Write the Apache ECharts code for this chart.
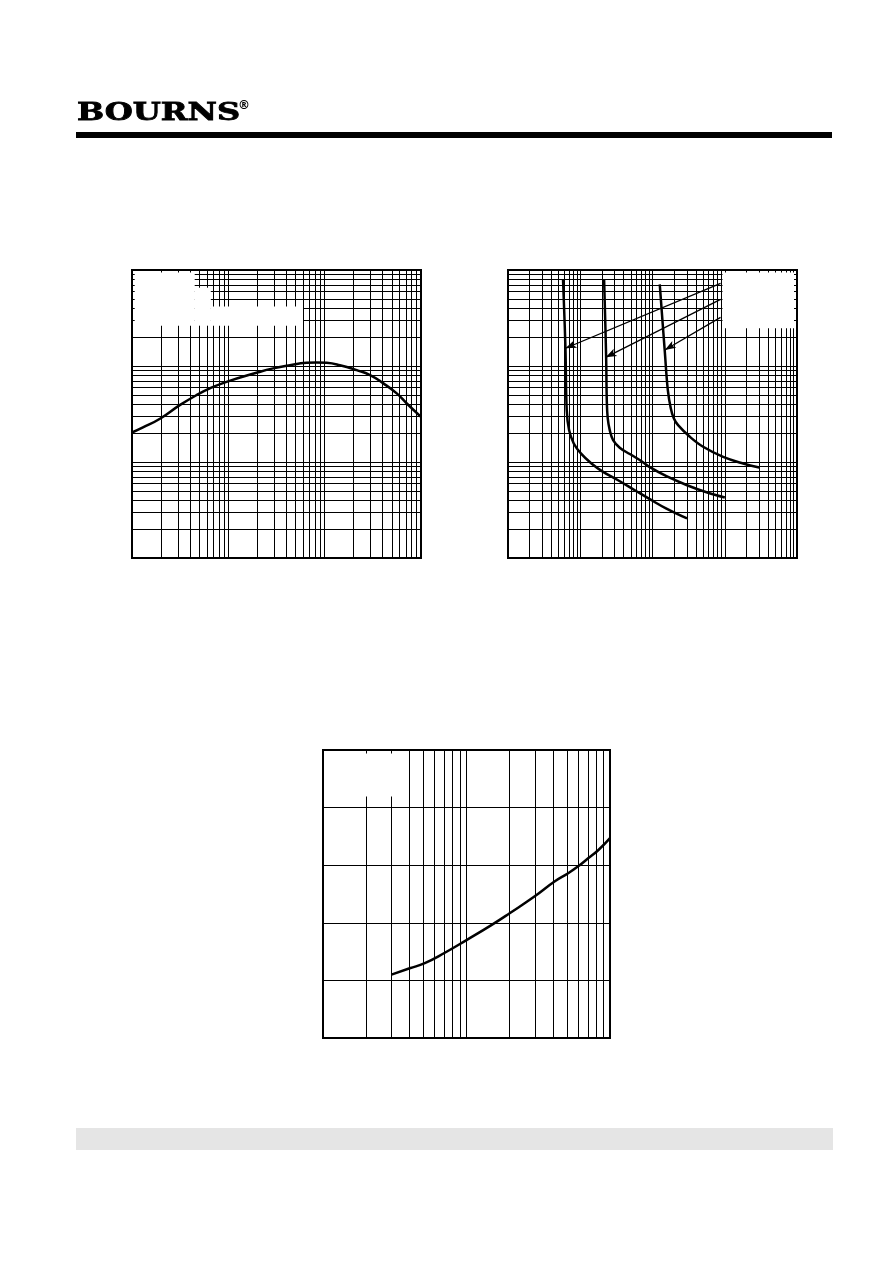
<!DOCTYPE html>
<html>
<head>
<meta charset="utf-8">
<script src="https://cdn.jsdelivr.net/npm/echarts@6/dist/echarts.min.js"></script>
<style>
html,body{margin:0;padding:0;background:#fff;}
#main{width:893px;height:1263px;}
</style>
</head>
<body>
<div id="main"></div>
<script>
// ---- Chart 1 (log-log, single curve) ----
const c1X = [1, 1.3, 1.97, 3.13, 4.67, 6.42, 9.58, 19.6, 29.2, 43.6, 65, 82.6, 105, 144, 215, 296, 407, 560, 712, 1000];
const c1Y = [20.3, 22.9, 28.4, 39.1, 49.7, 58.4, 68.4, 84.9, 94.4, 102, 108, 109, 108, 102, 90.6, 80.4, 65.9, 51.8, 40.7, 29.5];

// ---- Chart 2 (log-log, three curves) ----
const aX = [5.78, 6.24, 6.5, 7.0, 8.13, 10.2, 14.3, 20.7, 33.4, 56.9, 96.9, 156, 301];
const aY = [787, 153, 34.7, 21.5, 15.6, 12.3, 9.64, 7.88, 6.46, 5.08, 4.0, 3.27, 2.58];
const bX = [21.4, 22.8, 23.3, 24.0, 25.6, 28.5, 35.2, 48.5, 70.5, 91.8, 156, 301, 559, 1003];
const bY = [787, 127, 44.1, 28.6, 21.5, 16.9, 14.1, 12.1, 10.2, 8.83, 7.11, 5.73, 4.84, 4.26];
const cX = [126, 148, 163, 179, 197, 226, 329, 502, 950, 1798, 2995];
const cY = [709, 141, 56.1, 36.4, 28.6, 24.2, 18.3, 14.4, 11.3, 9.64, 8.77];
const arrowFrom = [[875, 727], [875, 495], [875, 321]];
const arrowTo = [[6.24, 153], [22.5, 123], [148, 147]];

// ---- Chart 3 (log x, linear y) ----
const c3X = [3.0, 4.02, 5.12, 7.06, 10.0, 14.9, 20.1, 29.9, 41.3, 51.1, 60.0, 70.4, 82.7, 100];
const c3Y = [1.10, 1.21, 1.30, 1.48, 1.70, 1.96, 2.17, 2.46, 2.72, 2.86, 2.98, 3.12, 3.26, 3.47];

// axis ranges
const ax1X = [1, 1000], ax1Y = [1, 1000];
const ax2X = [1, 10000], ax2Y = [1, 1000];
const ax3X = [1, 100], ax3Y = [0, 5];
const linGrid3Y = [1, 2, 3, 4];

function logGrid(min, max) {
  const out = [];
  for (let d = min; d < max; d *= 10) {
    for (let k = 1; k <= 9; k++) {
      const v = +(k * d).toPrecision(6);
      if (v > min && v < max) out.push(v);
    }
  }
  return out;
}
function zip(x, y) { return x.map((v, i) => [v, y[i]]); }

const gridLineStyle = { color: '#000', width: 1, type: 'solid' };
function gridMarks(xs, ys) {
  return {
    silent: true, symbol: 'none', animation: false,
    label: { show: false },
    lineStyle: gridLineStyle,
    emphasis: { disabled: true },
    data: xs.map(v => ({ xAxis: v })).concat(ys.map(v => ({ yAxis: v })))
  };
}
const curveStyle = { color: '#000', width: 2.5 };

function logAxis(idx, r) {
  return { type: 'log', logBase: 10, gridIndex: idx, min: r[0], max: r[1],
    axisLabel: { show: false }, axisTick: { show: false }, axisLine: { show: false },
    splitLine: { show: false }, minorTick: { show: false } };
}

const chart = echarts.init(document.getElementById('main'), null, { renderer: 'canvas' });
const option = {
  animation: false,
  backgroundColor: '#fff',
  grid: [
    { left: 132, top: 270, width: 289, height: 288, show: true, borderColor: '#000', borderWidth: 2 },
    { left: 508, top: 270, width: 289, height: 288, show: true, borderColor: '#000', borderWidth: 2 },
    { left: 323, top: 750, width: 287, height: 288, show: true, borderColor: '#000', borderWidth: 2 }
  ],
  xAxis: [ logAxis(0, ax1X), logAxis(1, ax2X), logAxis(2, ax3X) ],
  yAxis: [ logAxis(0, ax1Y), logAxis(1, ax2Y),
    { type: 'value', gridIndex: 2, min: ax3Y[0], max: ax3Y[1], interval: 1,
      axisLabel: { show: false }, axisTick: { show: false }, axisLine: { show: false }, splitLine: { show: false } } ],
  series: [
    { type: 'line', xAxisIndex: 0, yAxisIndex: 0, data: zip(c1X, c1Y), smooth: 0.5, showSymbol: false,
      lineStyle: curveStyle, markLine: gridMarks(logGrid(ax1X[0], ax1X[1]), logGrid(ax1Y[0], ax1Y[1])) },
    { type: 'line', xAxisIndex: 1, yAxisIndex: 1, data: zip(aX, aY), smooth: 0.4, showSymbol: false,
      lineStyle: curveStyle, markLine: gridMarks(logGrid(ax2X[0], ax2X[1]), logGrid(ax2Y[0], ax2Y[1])) },
    { type: 'line', xAxisIndex: 1, yAxisIndex: 1, data: zip(bX, bY), smooth: 0.4, showSymbol: false, lineStyle: curveStyle },
    { type: 'line', xAxisIndex: 1, yAxisIndex: 1, data: zip(cX, cY), smooth: 0.4, showSymbol: false, lineStyle: curveStyle,
      markLine: { silent: true, animation: false, symbol: ['none', 'arrow'], symbolSize: [6, 11], label: { show: false },
        lineStyle: { color: '#000', width: 1.3, type: 'solid' },
        data: arrowFrom.map((f, i) => [{ coord: f }, { coord: arrowTo[i] }]) } },
    { type: 'line', xAxisIndex: 2, yAxisIndex: 2, data: zip(c3X, c3Y), smooth: 0.5, showSymbol: false,
      lineStyle: curveStyle, markLine: gridMarks(logGrid(ax3X[0], ax3X[1]), linGrid3Y) }
  ],
  graphic: [
    { type: 'text', x: 77, y: 102, scaleX: 1.34, z: 20,
      style: { text: 'BOURNS', font: 'bold 24px "DejaVu Serif"', fill: '#000', stroke: '#000', lineWidth: 0.8, textVerticalAlign: 'top' } },
    { type: 'text', x: 238, y: 100, z: 20,
      style: { text: '®', font: 'bold 12px "DejaVu Sans"', fill: '#000', textVerticalAlign: 'top' } },
    { type: 'rect', z: 20, shape: { x: 76, y: 132, width: 756, height: 6 }, style: { fill: '#000' } },
    { type: 'rect', z: 20, shape: { x: 76, y: 1128, width: 757, height: 22 }, style: { fill: '#e5e5e5' } },
    // white blanked areas (chart 1)
    { type: 'rect', z: 20, shape: { x: 134.7, y: 272.5, width: 60, height: 53.2 }, style: { fill: '#fff' } },
    { type: 'rect', z: 20, shape: { x: 194.5, y: 287.7, width: 16.3, height: 38 }, style: { fill: '#fff' } },
    { type: 'rect', z: 20, shape: { x: 210.5, y: 306.5, width: 92.5, height: 19.2 }, style: { fill: '#fff' } },
    // chart 2
    { type: 'rect', z: 20, shape: { x: 722.5, y: 272.5, width: 71.5, height: 55.8 }, style: { fill: '#fff' } },
    // chart 3
    { type: 'rect', z: 20, shape: { x: 325, y: 753.5, width: 84, height: 43 }, style: { fill: '#fff' } }
  ]
};
chart.setOption(option);
</script>
</body>
</html>
